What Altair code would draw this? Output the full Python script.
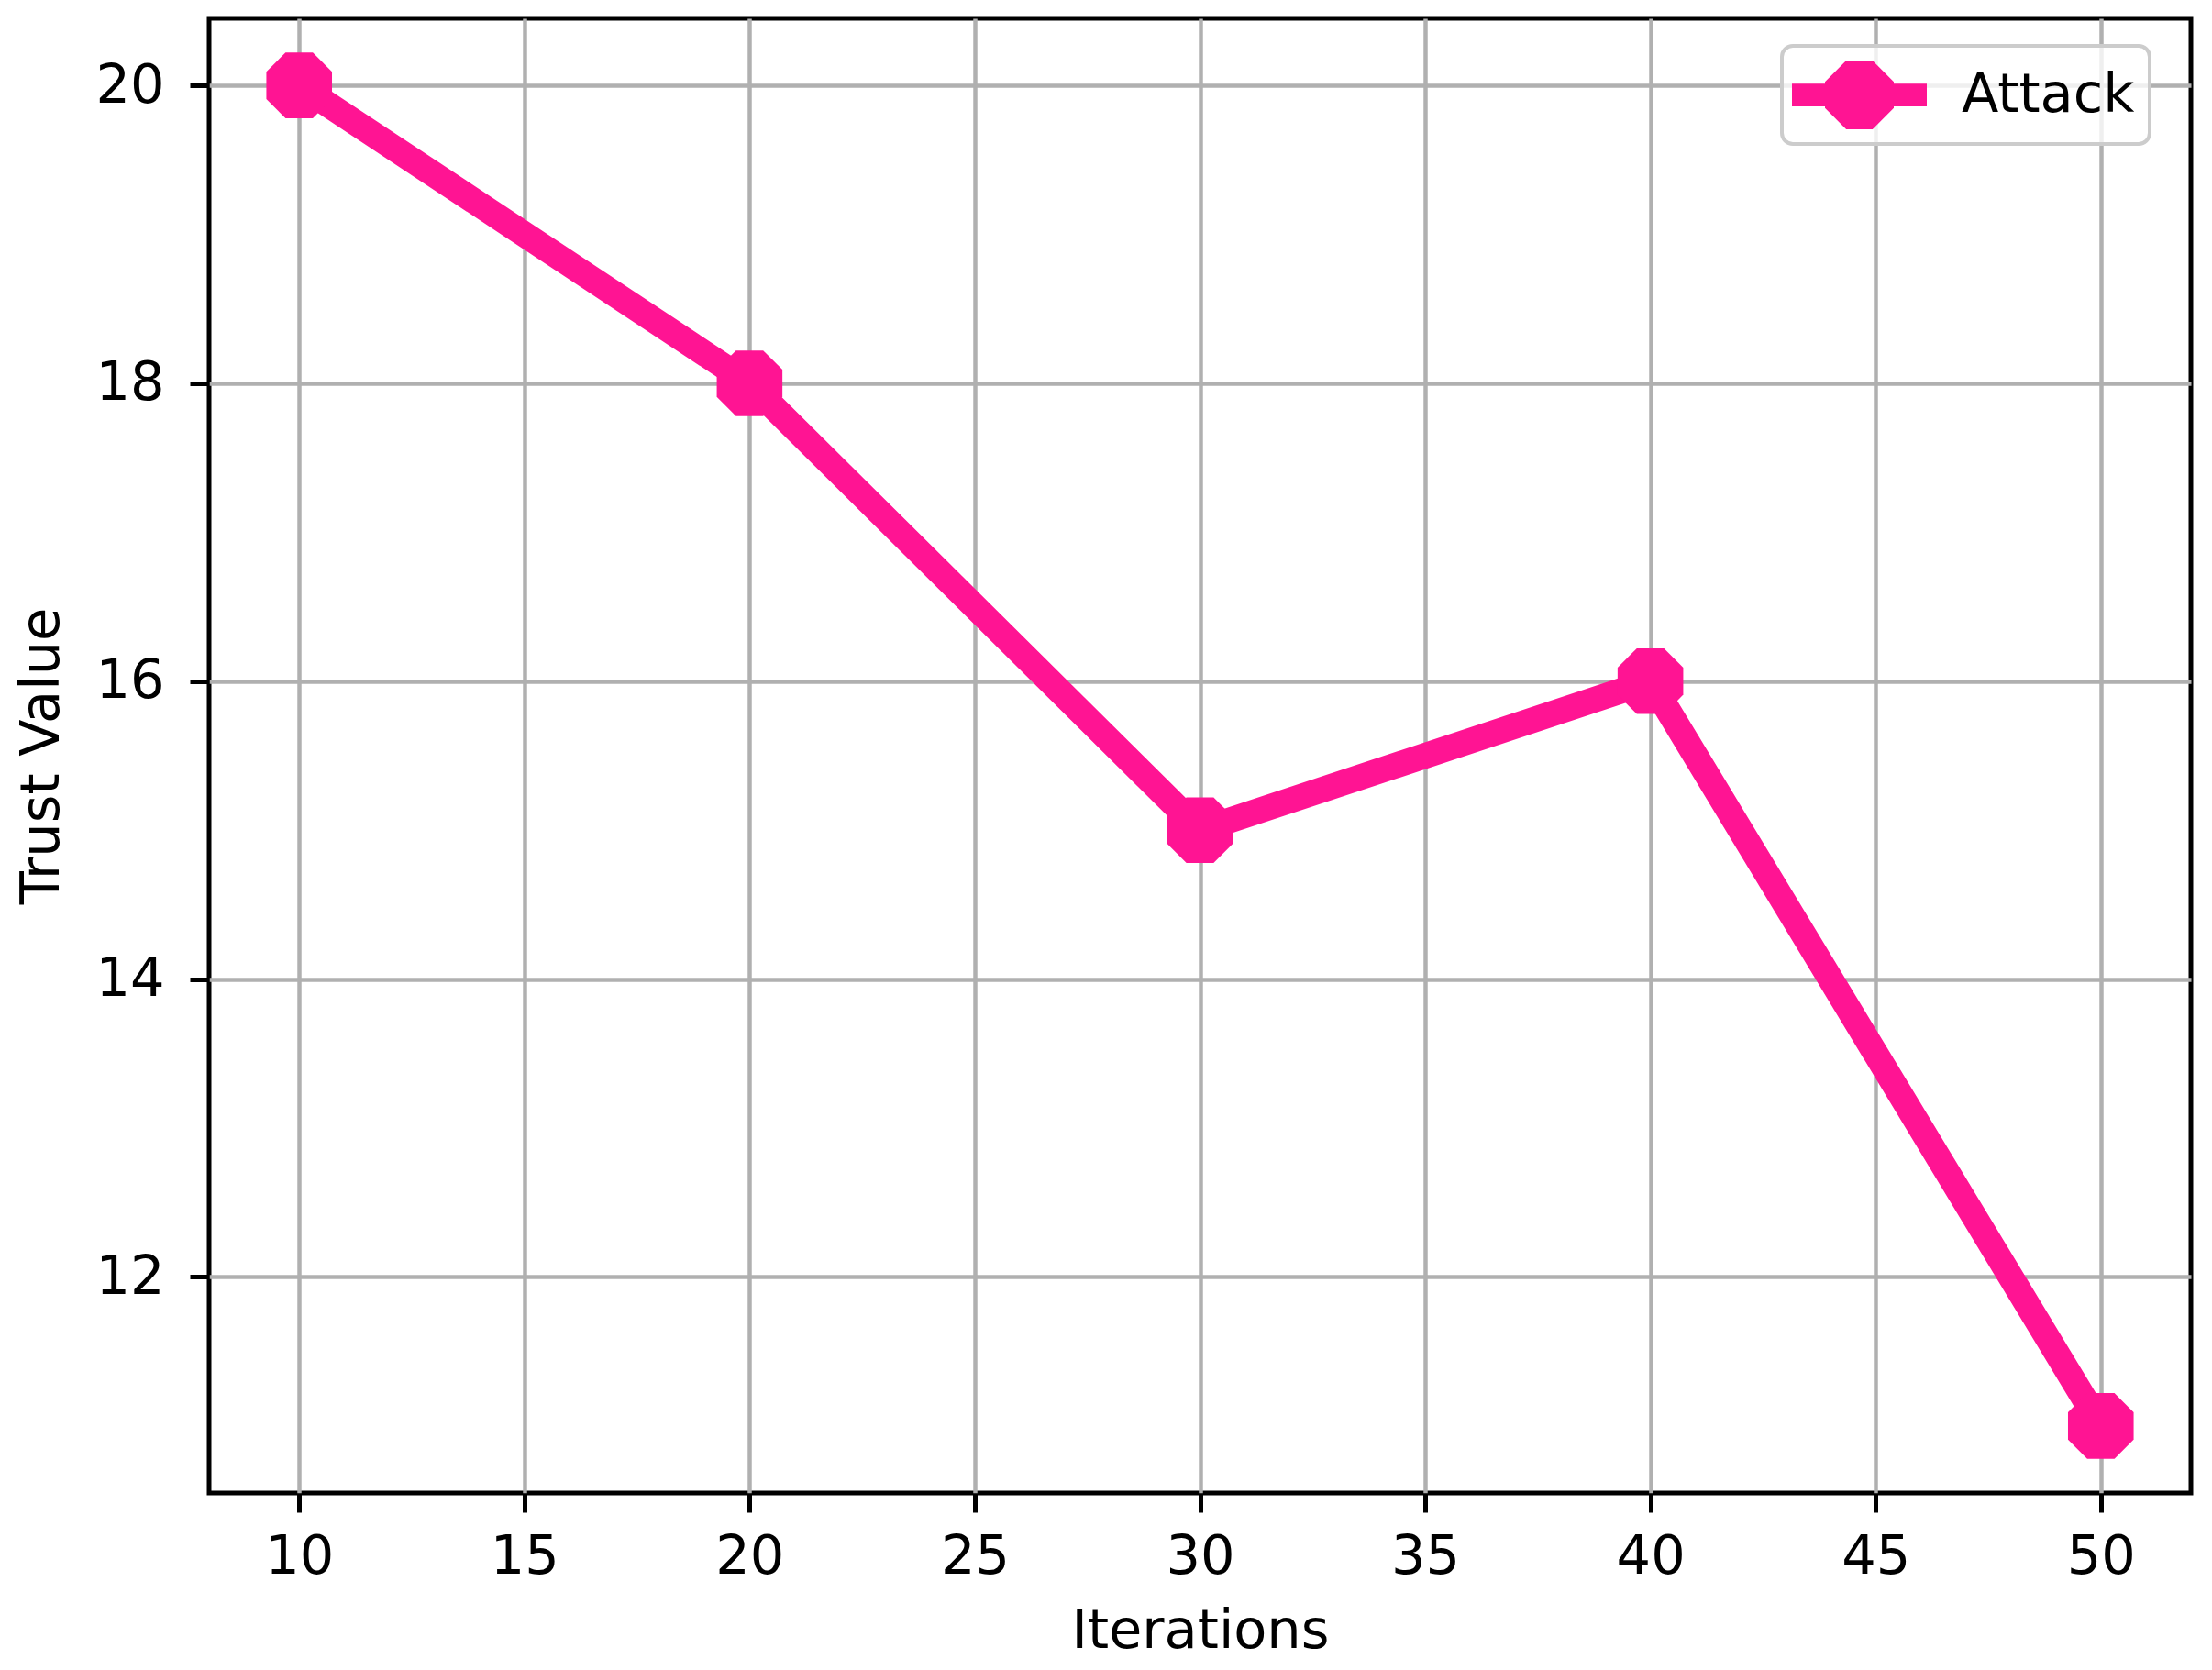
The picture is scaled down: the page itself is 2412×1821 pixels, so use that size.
import altair as alt
import pandas as pd

iterations = [10, 20, 30, 40, 50]
trust_values = [20, 18, 15, 16, 11]
series_name = ["Attack"] * 5

x_ticks = [10, 15, 20, 25, 30, 35, 40, 45, 50]
y_ticks = [12, 14, 16, 18, 20]

df = pd.DataFrame({"Iterations": iterations, "Trust": trust_values, "Series": series_name})

PINK = "#FF1493"
FONT = "DejaVu Sans"
FS = 59

octagon = ("M -0.383,-0.924 L 0.383,-0.924 L 0.924,-0.383 L 0.924,0.383 "
           "L 0.383,0.924 L -0.383,0.924 L -0.924,0.383 L -0.924,-0.383 Z")
legend_symbol = ("M -1.96,-0.33 L 1.96,-0.33 L 1.96,0.33 L -1.96,0.33 Z "
                 "M -0.383,-1 L 0.383,-1 L 1,-0.383 L 1,0.383 "
                 "L 0.383,1 L -0.383,1 L -1,0.383 L -1,-0.383 Z")

x_enc = alt.X("Iterations:Q",
              scale=alt.Scale(domain=[8, 52], nice=False, zero=False),
              axis=alt.Axis(values=x_ticks, title="Iterations", format="d"))
y_enc = alt.Y("Trust:Q",
              scale=alt.Scale(domain=[10.55, 20.45], nice=False, zero=False),
              axis=alt.Axis(values=y_ticks, title="Trust Value", format="d"))

base = alt.Chart(df)

line = base.mark_line(color=PINK, strokeWidth=28, strokeJoin="round").encode(x=x_enc, y=y_enc)

points = base.mark_point(shape=octagon, filled=True, size=6000, opacity=1, strokeWidth=0).encode(
    x=x_enc, y=y_enc,
    color=alt.Color("Series:N",
                    scale=alt.Scale(domain=["Attack"], range=[PINK]),
                    legend=alt.Legend(title=None, orient="none", legendX=1715, legendY=30,
                                      symbolType=legend_symbol, symbolSize=5625,
                                      symbolStrokeWidth=0, symbolOpacity=1,
                                      symbolOffset=31, labelOffset=74, labelLimit=500,
                                      labelFontSize=FS, labelFont=FONT, labelColor="black",
                                      padding=16, cornerRadius=12,
                                      strokeColor="#cccccc",
                                      fillColor="rgba(255,255,255,0.8)")),
)

chart = alt.layer(line, points).properties(
    width=2161, height=1608,
    autosize=alt.AutoSizeParams(type="none"),
    padding={"left": 220, "top": 12, "right": 10, "bottom": 185},
).configure_view(
    stroke="black", strokeWidth=5
).configure_axis(
    domain=False,
    grid=True, gridColor="#b0b0b0", gridWidth=4.5,
    ticks=True, tickColor="black", tickWidth=5, tickSize=21,
    labelFont=FONT, labelFontSize=FS, labelColor="black",
    titleFont=FONT, titleFontSize=FS, titleColor="black", titleFontWeight="normal",
).configure_axisX(
    labelPadding=19, titlePadding=22,
).configure_axisY(
    labelPadding=28, titlePadding=28,
).configure_legend(
    strokeWidth=4,
)

chart.save("out.html", embed_options={"renderer": "svg", "actions": False})
